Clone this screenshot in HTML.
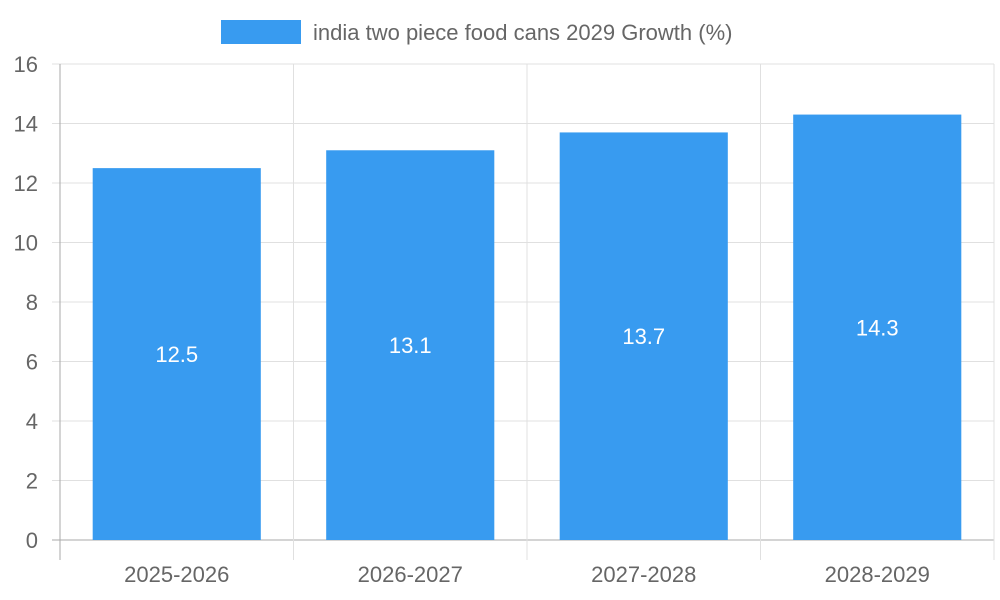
<!DOCTYPE html>
<html><head><meta charset="utf-8"><style>
body{margin:0;background:#fff;}
svg{display:block;font-family:"Liberation Sans",sans-serif;}
</style></head><body>
<svg id="c" width="1000" height="600"></svg>
<script>
const categories=["2025-2026","2026-2027","2027-2028","2028-2029"];
const values=[12.5,13.1,13.7,14.3];
const yTicks=[0,2,4,6,8,10,12,14,16];
const seriesName="india two piece food cans 2029 Growth (%)";
const NS="http://www.w3.org/2000/svg";
const svg=document.getElementById('c');
const L=60,R=994,T=64,B=540,yMax=16;
const y=v=>B-(v/yMax)*(B-T);
const bw=(R-L)/categories.length;
const x=i=>L+bw*i;
function mk(t,a,p){const e=document.createElementNS(NS,t);for(const k in a)e.setAttribute(k,a[k]);(p||svg).appendChild(e);return e;}
// legend
const lg=mk('g',{});


const lr=mk('rect',{x:221,y:20,width:80,height:24,fill:'#389bf0'},lg);


const lt=mk('text',{x:313,y:40,'font-size':22,fill:'#666'},lg);lt.textContent=seriesName;


// grid
yTicks.forEach(v=>{
 const g=mk('line',{x1:52,x2:R,y1:y(v),y2:y(v),stroke:v===0?'#aaa':'#e0e0e0','stroke-width':1});
 
 
 const t=mk('text',{x:38,y:y(v)+8,'font-size':22,fill:'#666','text-anchor':'end'});t.textContent=v;
 
 
});
for(let i=0;i<=categories.length;i++){
 const g=mk('line',{x1:x(i),x2:x(i),y1:T,y2:560,stroke:i===0?'#aaa':'#e0e0e0','stroke-width':1});
 
 
}
// bars
categories.forEach((c,i)=>{
 const w=bw*0.72,cx=x(i)+bw/2;
 const r=mk('rect',{x:cx-w/2,y:y(values[i]),width:w,height:B-y(values[i]),fill:'#389bf0'});
 
 
 const vt=mk('text',{x:cx,y:(y(values[i])+B)/2+8,'font-size':22,fill:'#fff','text-anchor':'middle'});vt.textContent=values[i];
 
 
 const xt=mk('text',{x:cx,y:582,'font-size':22,fill:'#666','text-anchor':'middle'});xt.textContent=c;
 
 
});
</script>
</body></html>
